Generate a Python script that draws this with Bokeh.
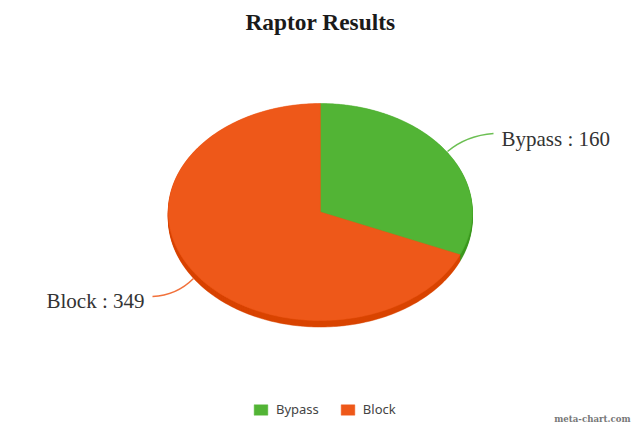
import numpy as np
from bokeh.plotting import figure
from bokeh.models import Range1d, Legend, LegendItem
from bokeh.core.properties import value
from bokeh.embed import file_html
from bokeh.resources import INLINE

title = "Raptor Results"
categories = ["Bypass", "Block"]
values = [160, 349]
colors = ["#52B435", "#EE5819"]
side_colors = ["#3F9A22", "#D94400"]
watermark = "meta-chart.com"

W, H = 640, 427
# pie geometry in window pixels
CX, CY, RX, RY, DEPTH = 319.8, 211.5, 152, 108.5, 6.5

p = figure(width=W, height=H, output_backend="svg", toolbar_location=None,
           x_range=Range1d(0, W), y_range=Range1d(H, 0), min_border=0,
           outline_line_color=None, background_fill_color="white")
p.axis.visible = False
p.grid.visible = False

fractions = np.array(values, dtype=float) / sum(values)
edges = np.concatenate([[0.0], np.cumsum(fractions)]) * 2 * np.pi


def wedge(a0, a1, dy=0.0):
    t = np.linspace(a0, a1, 240)
    xs = CX + RX * np.sin(t)
    ys = CY + dy - RY * np.cos(t)
    return np.r_[CX, xs], np.r_[CY + dy, ys]


# extruded side, then the top faces
for i in range(len(values)):
    for d in np.linspace(DEPTH, 0.5, 8):
        x, y = wedge(edges[i], edges[i + 1], d)
        p.patch(x, y, fill_color=side_colors[i], line_color=side_colors[i], line_width=0.5)

tops = []
for i in range(len(values)):
    x, y = wedge(edges[i], edges[i + 1])
    tops.append(p.patch(x, y, fill_color=colors[i], line_color=colors[i], line_width=0.5))

# connectors
p.quadratic(x0=[447], y0=[151], x1=[493], y1=[133], cx=[466], cy=[135],
            line_color=colors[0], line_width=1.5, line_alpha=0.85)
p.quadratic(x0=[152], y0=[296], x1=[193], y1=[278], cx=[176], cy=[295],
            line_color=colors[1], line_width=1.5, line_alpha=0.85)

# title
p.text(x=[320], y=[21], text=[title], text_font=value("Liberation Serif"),
       text_font_style="bold", text_font_size="23.4px", text_color="#1a1a1a",
       text_align="center", text_baseline="middle")

# data labels
p.text(x=[501], y=[138], text=[f"{categories[0]} : {values[0]}"],
       text_font=value("Liberation Serif"), text_font_size="21px", text_color="#333333",
       text_align="left", text_baseline="middle")
p.text(x=[144], y=[300], text=[f"{categories[1]} : {values[1]}"],
       text_font=value("Liberation Serif"), text_font_size="21px", text_color="#333333",
       text_align="right", text_baseline="middle")

# watermark
p.text(x=[630], y=[418], text=[watermark], text_font=value("DejaVu Serif"),
       text_font_style="bold", text_font_size="8.6px", text_color="#777777",
       text_align="right", text_baseline="middle")

legend = Legend(items=[LegendItem(label=c, renderers=[r]) for c, r in zip(categories, tops)],
                orientation="horizontal", location=(252, 9), border_line_color=None,
                background_fill_alpha=0, label_text_font="Noto Sans", label_text_font_size="13px",
                label_text_color="#444444", glyph_width=17, glyph_height=13, spacing=20,
                label_standoff=7, padding=6, margin=0)
p.add_layout(legend, "center")

open("out.html", "w").write(file_html(p, INLINE))
